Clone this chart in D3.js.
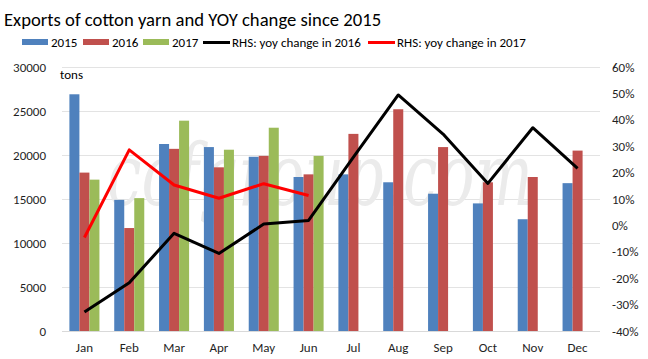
<!DOCTYPE html>
<html><head><meta charset="utf-8">
<script src="https://cdn.jsdelivr.net/npm/d3@7"></script>
<style>body{margin:0;background:#fff}svg{display:block}</style>
</head><body><svg id="c" width="648" height="359"></svg>
<script>
const months = ["Jan","Feb","Mar","Apr","May","Jun","Jul","Aug","Sep","Oct","Nov","Dec"];
const exp2015 = [26900,14900,21250,20900,19800,17500,17800,16900,15600,14500,12700,16800];
const exp2016 = [18000,11700,20700,18600,19900,17800,22400,25200,20900,16900,17500,20500];
const exp2017 = [17200,15100,23900,20600,23100,19900];
const yoy2016 = [-32.8,-21.7,-3.0,-10.6,0.5,1.9,25.9,49.4,34.6,15.9,37.0,21.6];
const yoy2017 = [-4.6,28.6,15.3,10.3,15.8,11.3];
const leftTicks = [0,5000,10000,15000,20000,25000,30000];
const rightTicks = [-40,-30,-20,-10,0,10,20,30,40,50,60];
const seriesNames = ["2015","2016","2017"];
const colors = ["#4f81bd","#c0504d","#9bbb59"];

const svg = d3.select("#c");
const font = "Carlito, Calibri, 'Open Sans', sans-serif";
const L = 62, R = 600, T = 67, B = 331;
const x = d3.scaleBand().domain(months).range([L,R]).paddingInner(0.33).paddingOuter(0.165);
const xs = d3.scaleBand().domain(seriesNames).range([0,x.bandwidth()]);
const yL = d3.scaleLinear().domain([0,30000]).range([B,T]);
const yR = d3.scaleLinear().domain([-40,60]).range([B,T]);
const xc = d3.scaleBand().domain(months).range([L,R]);

// title
const title = svg.append("text").attr("x",4).attr("y",26).attr("font-family",font)
  .attr("font-size",18.67).attr("fill","#000")
  .text("Exports of cotton yarn and YOY change since 2015");

// grid
svg.append("g").selectAll("line").data(leftTicks.slice(1)).join("line")
  .attr("x1",L).attr("x2",R).attr("y1",d=>yL(d)+0.5).attr("y2",d=>yL(d)+0.5)
  .attr("stroke","#e3e3e3").attr("stroke-width",1);
svg.append("line").attr("x1",L).attr("x2",R).attr("y1",B+0.5).attr("y2",B+0.5).attr("stroke","#d9d9d9");

// watermark
const wm = svg.append("text").attr("font-family","'DejaVu Serif', serif").attr("font-style","italic")
  .attr("font-size",86).attr("fill","#ebebeb").text("ccfgroup.com");
const wmw = wm.node().getComputedTextLength();
wm.attr("transform",`translate(107,205) scale(${426/wmw},1)`);

// left axis
const axL = svg.append("g").attr("transform",`translate(${L},0)`)
  .call(d3.axisLeft(yL).tickValues(leftTicks).tickSize(0).tickPadding(16).tickFormat(d3.format("d")));
axL.select(".domain").remove();
axL.selectAll("text").attr("font-family",font).attr("font-size",13).attr("fill","#1f1f1f");

// right axis
const axR = svg.append("g").attr("transform",`translate(${R},0)`)
  .call(d3.axisRight(yR).tickValues(rightTicks).tickSize(0).tickPadding(12).tickFormat(d=>d+"%"));
axR.select(".domain").remove();
axR.selectAll("text").attr("font-family",font).attr("font-size",13).attr("fill","#1f1f1f");

// bottom axis
const axB = svg.append("g").attr("transform",`translate(0,${B})`)
  .call(d3.axisBottom(xc).tickSize(0).tickPadding(12));
axB.select(".domain").remove();
axB.selectAll("text").attr("font-family",font).attr("font-size",13).attr("fill","#1f1f1f");

// bars
const allSeries = [exp2015,exp2016,exp2017];
allSeries.forEach((s,i)=>{
  svg.append("g").selectAll("rect").data(s).join("rect")
    .attr("x",(d,j)=>x(months[j])+xs(seriesNames[i]))
    .attr("width",xs.bandwidth())
    .attr("y",d=>yL(d)).attr("height",d=>B-yL(d))
    .attr("fill",colors[i]);
});

// lines
const line = d3.line().x((d,i)=>xc(months[i])+xc.bandwidth()/2).y(d=>yR(d));
svg.append("path").datum(yoy2016).attr("d",line).attr("fill","none").attr("stroke","#000").attr("stroke-width",3).attr("stroke-linejoin","round");
svg.append("path").datum(yoy2017).attr("d",line).attr("fill","none").attr("stroke","#ff0000").attr("stroke-width",3).attr("stroke-linejoin","round");

// tons
svg.append("text").attr("x",60).attr("y",79).attr("font-family",font).attr("font-size",13).attr("fill","#000").text("tons");

// legend
const leg = [
  {t:"2015",type:"rect",c:colors[0],x:22},
  {t:"2016",type:"rect",c:colors[1],x:83},
  {t:"2017",type:"rect",c:colors[2],x:143},
  {t:"RHS: yoy change in 2016",type:"line",c:"#000",x:203},
  {t:"RHS: yoy change in 2017",type:"line",c:"#ff0000",x:368}
];
const lg = svg.append("g");
leg.forEach(d=>{
  if(d.type==="rect") lg.append("rect").attr("x",d.x).attr("y",39).attr("width",26).attr("height",6).attr("fill",d.c);
  else lg.append("line").attr("x1",d.x).attr("x2",d.x+27).attr("y1",42.5).attr("y2",42.5).attr("stroke",d.c).attr("stroke-width",3);
  lg.append("text").attr("x",d.x+29).attr("y",47).attr("font-family",font).attr("font-size",13).attr("fill","#000").text(d.t);
});
</script></body></html>
